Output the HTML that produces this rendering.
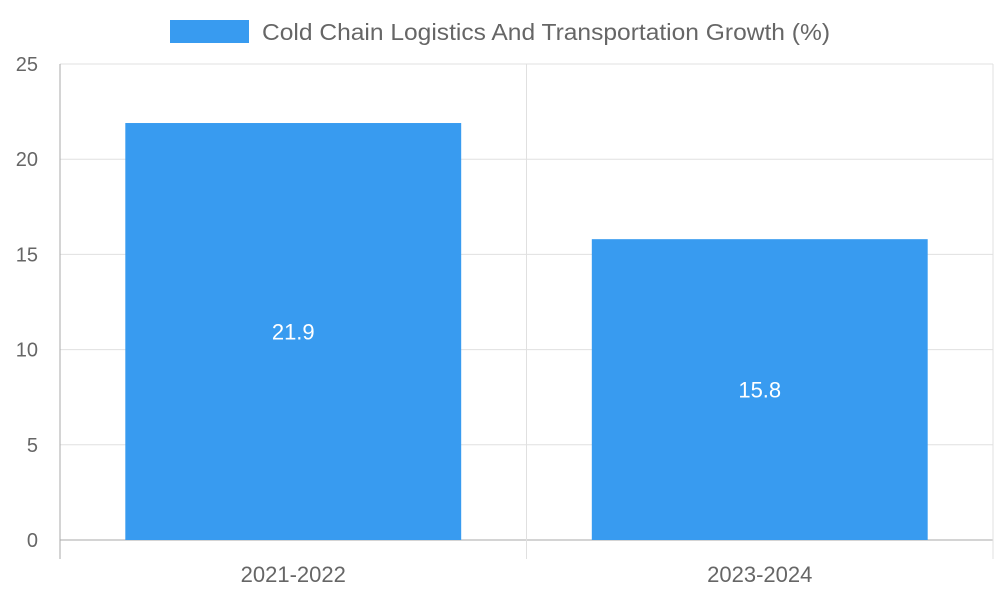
<!DOCTYPE html>
<html><head><meta charset="utf-8"><style>
html,body{margin:0;padding:0;background:#fff;}
svg{display:block;font-family:"Liberation Sans",sans-serif;}
</style></head><body>
<svg id="chart" width="1000" height="600">
<g>
<rect x="170" y="20" width="79" height="23" fill="#389BF0"></rect>
<text x="262" y="40" font-size="23" textLength="568" lengthAdjust="spacingAndGlyphs" fill="#666">Cold Chain Logistics And Transportation Growth (%)</text>
</g>
<g id="grid"></g>
<g id="bars"></g>
<g id="axes"></g>
</svg>
<script>
const categories = ["2021-2022", "2023-2024"];
const values = [21.9, 15.8];
const yTicks = [0, 5, 10, 15, 20, 25];
const NS = "http://www.w3.org/2000/svg";
const pLeft = 60, pRight = 993, pTop = 64, pBottom = 540, yMax = 25;
const yScale = v => pBottom - (v / yMax) * (pBottom - pTop);
const band = (pRight - pLeft) / categories.length;
const xc = i => pLeft + band * (i + 0.5);
function mk(tag, attrs, parent) {
  const e = document.createElementNS(NS, tag);
  for (const k in attrs) e.setAttribute(k, attrs[k]);
  parent.appendChild(e);
  return e;
}
const grid = document.getElementById("grid"), bars = document.getElementById("bars"), axes = document.getElementById("axes");
yTicks.forEach(t => {
  const l = mk("line", {x1: pLeft, x2: pRight, y1: yScale(t), y2: yScale(t), stroke: t === 0 ? "#aaa" : "#e0e0e0", "stroke-width": 1}, grid);
  
  
  const tx = mk("text", {x: 38, y: yScale(t) + 7, "text-anchor": "end", "font-size": 20, fill: "#666"}, axes);
  tx.textContent = t;
  
  
});
for (let i = 0; i <= categories.length; i++) {
  const x = pLeft + band * i;
  const l = mk("line", {x1: x, x2: x, y1: pTop, y2: pBottom + 19, stroke: i === 0 ? "#aaa" : "#e0e0e0", "stroke-width": 1}, grid);
  
  
}
categories.forEach((c, i) => {
  const w = band * 0.72;
  const r = mk("rect", {x: xc(i) - w / 2, y: yScale(values[i]), width: w, height: pBottom - yScale(values[i]), fill: "#389BF0"}, bars);
  
  
  const v = mk("text", {x: xc(i), y: (yScale(values[i]) + pBottom) / 2 + 8, "text-anchor": "middle", "font-size": 22, fill: "#fff"}, bars);
  v.textContent = values[i];
  
  
  const xl = mk("text", {x: xc(i), y: 582, "text-anchor": "middle", "font-size": 22, fill: "#666"}, axes);
  xl.textContent = c;
  
  
});
</script>
</body></html>
